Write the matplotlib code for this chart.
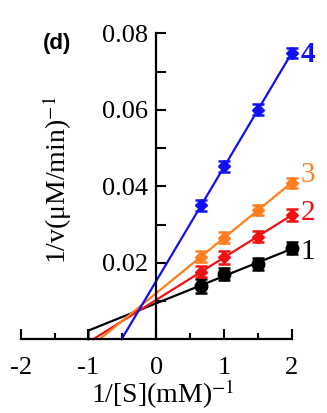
import numpy as np
import matplotlib
matplotlib.use("Agg")
import matplotlib.pyplot as plt
from matplotlib.ticker import FixedLocator

plt.rcParams["font.family"] = ["Liberation Serif", "DejaVu Serif"]
plt.rcParams["mathtext.fontset"] = "stix"

# Lineweaver-Burk data, 1/[S] in mM^-1 and 1/v in (uM/min)^-1
inv_s = [2 / 3, 1.0, 1.5, 2.0]
inv_v_1 = [0.0139, 0.0171, 0.0196, 0.0238]
inv_v_2 = [0.0177, 0.0214, 0.0268, 0.0325]
inv_v_3 = [0.0216, 0.0266, 0.0338, 0.0409]
inv_v_4 = [0.0350, 0.0452, 0.0600, 0.0748]
err_1 = [0.0018, 0.0016, 0.0016, 0.0015]
err_2 = [0.0015, 0.0016, 0.0015, 0.0015]
err_3 = [0.0015, 0.0015, 0.0012, 0.0013]
err_4 = [0.0014, 0.0015, 0.0014, 0.0013]
series_names = ["1", "2", "3", "4"]
label_y = [0.0228, 0.0331, 0.0430, 0.0745]
# where each fitted line starts on the left (None = run down to the x axis)
line_start = [-1.0, None, None, None]

values = [inv_v_1, inv_v_2, inv_v_3, inv_v_4]
errors = [err_1, err_2, err_3, err_4]
colors = ["black", "#f01010", "#ff7f1e", "#1010f0"]
markers = ["o", "D", "D", "D"]
msizes = [9, 6.5, 6.5, 6.5]

fig = plt.figure(figsize=(3.27, 4.13), dpi=100)
ax = fig.add_axes([0.0633, 0.1785, 0.829, 0.741])

x = np.array(inv_s)
for i, (y, e) in enumerate(zip(values, errors)):
    slope, icpt = np.polyfit(x, y, 1)
    x0 = line_start[i] if line_start[i] is not None else -icpt / slope
    xs = np.array([x0, x.max()])
    ys = icpt + slope * xs
    if line_start[i] is not None:
        # drop straight down to the axis from the left end
        xs = np.concatenate([[x0], xs])
        ys = np.concatenate([[0.0], ys])
    ax.plot(xs, ys, color=colors[i], lw=1.6, clip_on=False, zorder=2)
    ax.errorbar(x, y, yerr=e, fmt=markers[i], color=colors[i], ms=msizes[i],
                elinewidth=1.6, capsize=4.5, capthick=1.8, clip_on=False, zorder=3)
    fw = "bold" if i == 3 else "normal"
    ax.text(2.13, label_y[i], series_names[i], color=colors[i], fontsize=21,
            fontweight=fw, ha="left", va="center")

ax.set_xlim(-2, 2)
ax.set_ylim(0, 0.08)

ax.spines["top"].set_visible(False)
ax.spines["right"].set_visible(False)
ax.spines["left"].set_position(("data", 0))
for sp in ("left", "bottom"):
    ax.spines[sp].set_linewidth(1.6)

ax.xaxis.set_major_locator(FixedLocator([-2, -1, 0, 1, 2]))
ax.set_xticklabels(["-2", "-1", "0", "1", "2"])
ax.xaxis.set_minor_locator(FixedLocator([-1.5, -0.5, 0.5, 1.5]))
ax.yaxis.set_major_locator(FixedLocator([0.02, 0.04, 0.06, 0.08]))
ax.set_yticklabels(["0.02", "0.04", "0.06", "0.08"])
ax.yaxis.set_minor_locator(FixedLocator([0.01, 0.03, 0.05, 0.07]))

ax.tick_params(axis="x", which="major", direction="in", length=7, width=1.5,
               labelsize=19, pad=13)
ax.tick_params(axis="x", which="minor", direction="in", length=4.5, width=1.5)
ax.tick_params(axis="y", which="both", direction="in", length=7, width=1.5,
               labelsize=19, pad=6)

fig.text(57 / 327, 1 - 180 / 413, r"1/v(μM/min)$^{-1}$", rotation=90,
         fontsize=20, ha="center", va="center")
fig.text(163 / 327, 1 - 394 / 413, r"1/[S](mM)$^{-1}$", fontsize=20,
         ha="center", va="center")
fig.text(57 / 327, 1 - 43 / 413, "(d)", family="Liberation Sans",
         fontweight="bold", fontsize=16, ha="center", va="center")

fig.savefig("out.png", dpi=100)
